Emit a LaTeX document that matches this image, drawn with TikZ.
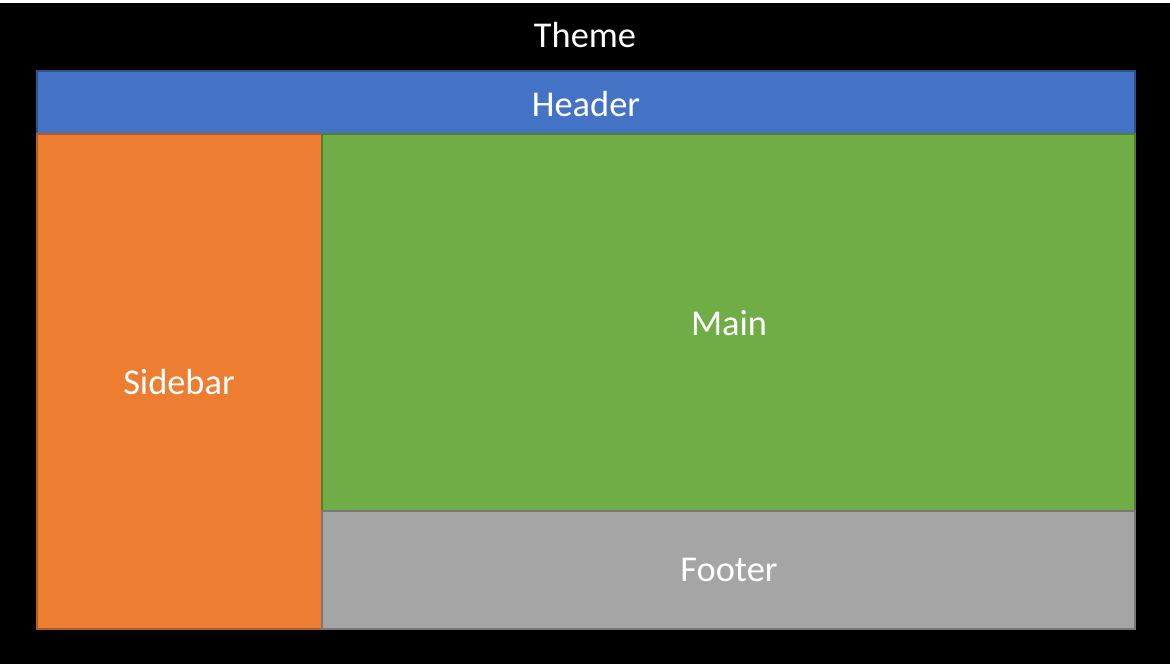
\documentclass[tikz,border=0pt]{standalone}
\usepackage{fontspec}
\setmainfont{Carlito}
\definecolor{hdr}{HTML}{4472C4}\definecolor{hdrb}{HTML}{2F528F}
\definecolor{sbr}{HTML}{ED7D31}\definecolor{sbrb}{HTML}{AE5A21}
\definecolor{mn}{HTML}{70AD47}\definecolor{mnb}{HTML}{507E32}
\definecolor{ft}{HTML}{A5A5A5}\definecolor{ftb}{HTML}{787878}
\begin{document}
\begin{tikzpicture}[x=1bp,y=-1bp,
  region/.style={line width=2bp},
  lbl/.style={text=white,font=\fontsize{36.5}{40}\selectfont}]
\useasboundingbox (0,0) rectangle (1170,664);
\fill[white] (0,0) rectangle (1170,3);
\fill[black] (0,3) rectangle (1170,664);
\node[lbl] (theme) at (585,35) {Theme};
\draw[region,fill=hdr,draw=hdrb] (37,71) rectangle (1135,134);
\node[lbl] (header) at (586,104) {Header};
\draw[region,fill=sbr,draw=sbrb] (37,134) rectangle (322,629);
\node[lbl] (sidebar) at (179,382) {Sidebar};
\draw[region,fill=mn,draw=mnb] (322,134) rectangle (1135,511);
\node[lbl] (main) at (729,323) {Main};
\draw[region,fill=ft,draw=ftb] (322,511) rectangle (1135,629);
\node[lbl] (footer) at (729,570) {Footer};
\end{tikzpicture}
\end{document}
